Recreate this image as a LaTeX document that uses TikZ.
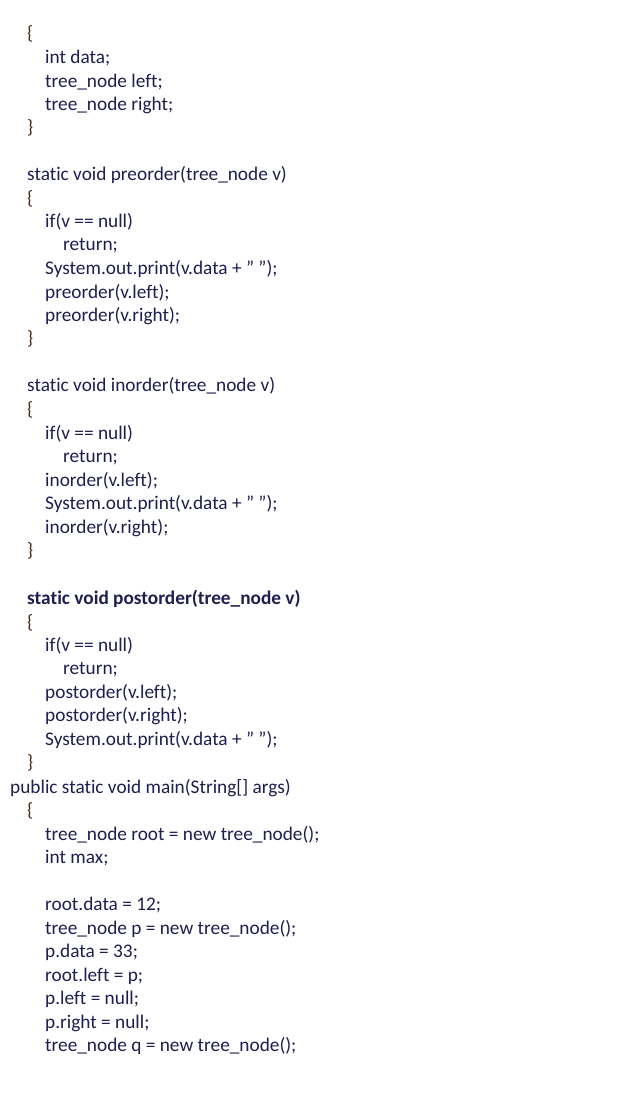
\documentclass[tikz,border=0pt]{standalone}
\usepackage{fontspec}
\setmainfont[Ligatures=NoCommon]{Carlito}
\newcommand{\dq}{\char"22\relax}
\definecolor{codeblue}{HTML}{1E1E50}
\definecolor{codebrown}{HTML}{4A2812}
\begin{document}
\begin{tikzpicture}[x=1pt,y=-1pt,
  ln/.style={anchor=base west,inner sep=0pt,font=\fontsize{19.3}{23}\selectfont,text=codeblue},
  br/.style={ln,text=codebrown}]
\useasboundingbox (0,0) rectangle (618,1095);
\node[br] (l1) at (27,39) {\{};
\node[ln] (l2) at (45,63) {int data;};
\node[ln] (l3) at (45,87) {tree\_node left;};
\node[ln] (l4) at (45,110) {tree\_node right;};
\node[br] (l5) at (27,133) {\}};
\node[ln] (l6) at (27,180) {static void preorder(tree\_node v)};
\node[br] (l7) at (27,204) {\{};
\node[ln] (l8) at (45,227) {if(v == null)};
\node[ln] (l9) at (63,250) {return;};
\node[ln] (l10) at (45,274) {System.out.print(v.data + \dq\ \dq);};
\node[ln] (l11) at (45,298) {preorder(v.left);};
\node[ln] (l12) at (45,321) {preorder(v.right);};
\node[br] (l13) at (27,344) {\}};
\node[ln] (l14) at (27,391) {static void inorder(tree\_node v)};
\node[br] (l15) at (27,415) {\{};
\node[ln] (l16) at (45,439) {if(v == null)};
\node[ln] (l17) at (63,462) {return;};
\node[ln] (l18) at (45,486) {inorder(v.left);};
\node[ln] (l19) at (45,509) {System.out.print(v.data + \dq\ \dq);};
\node[ln] (l20) at (45,533) {inorder(v.right);};
\node[br] (l21) at (27,556) {\}};
\node[ln,font=\fontsize{19.3}{23}\selectfont\bfseries] (l22) at (27,604) {static void postorder(tree\_node v)};
\node[br] (l23) at (27,628) {\{};
\node[ln] (l24) at (45,651) {if(v == null)};
\node[ln] (l25) at (63,674) {return;};
\node[ln] (l26) at (45,698) {postorder(v.left);};
\node[ln] (l27) at (45,721) {postorder(v.right);};
\node[ln] (l28) at (45,745) {System.out.print(v.data + \dq\ \dq);};
\node[br] (l29) at (27,768) {\}};
\node[ln] (l30) at (10,793) {public static void main(String[] args)};
\node[br] (l31) at (27,816) {\{};
\node[ln] (l32) at (45,840) {tree\_node root = new tree\_node();};
\node[ln] (l33) at (45,863) {int max;};
\node[ln] (l34) at (45,910) {root.data = 12;};
\node[ln] (l35) at (45,934) {tree\_node p = new tree\_node();};
\node[ln] (l36) at (45,957) {p.data = 33;};
\node[ln] (l37) at (45,981) {root.left = p;};
\node[ln] (l38) at (45,1004) {p.left = null;};
\node[ln] (l39) at (45,1028) {p.right = null;};
\node[ln] (l40) at (45,1051) {tree\_node q = new tree\_node();};
\end{tikzpicture}
\end{document}
